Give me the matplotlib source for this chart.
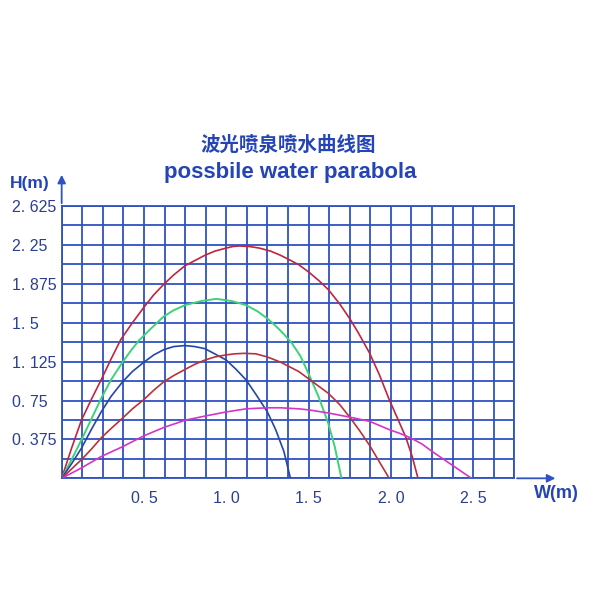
import matplotlib
matplotlib.use('Agg')
import matplotlib.pyplot as plt
import numpy as np

plt.rcParams['font.family'] = ['Liberation Sans', 'Noto Sans CJK SC', 'DejaVu Sans']

# curves (W, H in metres)
big_red_w = [0, 0.06, 0.12, 0.18, 0.24, 0.30, 0.36, 0.43, 0.50, 0.56, 0.62, 0.68, 0.75, 0.81, 0.87, 0.93, 1.00, 1.04,
             1.08, 1.14, 1.20, 1.27, 1.33, 1.38, 1.44, 1.50, 1.56, 1.62, 1.69, 1.75, 1.80, 1.87, 1.93, 1.99, 2.04, 2.09, 2.13, 2.165]
big_red_h = [0, 0.29, 0.56, 0.76, 0.95, 1.15, 1.34, 1.50, 1.65, 1.77, 1.87, 1.96, 2.05, 2.10, 2.15, 2.19, 2.22, 2.235,
             2.24, 2.235, 2.22, 2.19, 2.15, 2.11, 2.06, 1.99, 1.91, 1.82, 1.68, 1.54, 1.41, 1.21, 1.00, 0.76, 0.58, 0.40, 0.21, 0]

green_w = [0, 0.06, 0.12, 0.18, 0.24, 0.30, 0.37, 0.42, 0.47, 0.54, 0.62, 0.68, 0.75, 0.85, 0.94, 1.03, 1.12, 1.19,
           1.25, 1.30, 1.35, 1.40, 1.45, 1.50, 1.56, 1.62, 1.66, 1.70]
green_h = [0, 0.18, 0.37, 0.57, 0.77, 0.95, 1.12, 1.23, 1.33, 1.44, 1.56, 1.62, 1.67, 1.71, 1.73, 1.71, 1.67, 1.61,
           1.54, 1.47, 1.39, 1.30, 1.18, 1.01, 0.79, 0.53, 0.30, 0]

blue_w = [0, 0.06, 0.12, 0.18, 0.24, 0.30, 0.37, 0.43, 0.50, 0.56, 0.62, 0.68, 0.75, 0.81, 0.87, 0.93, 1.00, 1.06,
          1.12, 1.18, 1.25, 1.30, 1.35, 1.39]
blue_h = [0, 0.14, 0.29, 0.47, 0.64, 0.79, 0.93, 1.03, 1.12, 1.19, 1.24, 1.27, 1.28, 1.27, 1.25, 1.20, 1.14, 1.05,
          0.95, 0.81, 0.64, 0.47, 0.26, 0]

small_red_w = [0, 0.06, 0.12, 0.18, 0.24, 0.30, 0.37, 0.43, 0.50, 0.56, 0.62, 0.68, 0.75, 0.81, 0.87, 0.93, 1.00, 1.05,
               1.11, 1.18, 1.25, 1.33, 1.44, 1.50, 1.56, 1.62, 1.69, 1.75, 1.81, 1.87, 1.93, 1.99]
small_red_h = [0, 0.09, 0.18, 0.28, 0.39, 0.48, 0.58, 0.67, 0.76, 0.85, 0.93, 0.99, 1.05, 1.10, 1.14, 1.17, 1.19, 1.20,
               1.205, 1.20, 1.17, 1.12, 1.03, 0.96, 0.89, 0.82, 0.71, 0.59, 0.46, 0.32, 0.16, 0]

magenta_w = [0, 0.06, 0.12, 0.24, 0.37, 0.50, 0.62, 0.75, 0.87, 1.00, 1.12, 1.25, 1.33, 1.44, 1.50, 1.62, 1.75, 1.87,
             1.99, 2.06, 2.12, 2.19, 2.25, 2.31, 2.37, 2.43, 2.49]
magenta_h = [0, 0.05, 0.10, 0.21, 0.305, 0.41, 0.49, 0.56, 0.60, 0.64, 0.67, 0.68, 0.68, 0.67, 0.66, 0.63, 0.59, 0.55,
             0.47, 0.43, 0.39, 0.33, 0.26, 0.195, 0.13, 0.065, 0]

x_ticks = [0.5, 1.0, 1.5, 2.0, 2.5]
x_labels = ['0. 5', '1. 0', '1. 5', '2. 0', '2. 5']
y_ticks = [0.375, 0.75, 1.125, 1.5, 1.875, 2.25, 2.625]
y_labels = ['0. 375', '0. 75', '1. 125', '1. 5', '1. 875', '2. 25', '2. 625']

grid_col = '#2f52c4'
text_col = '#2b3f92'
title_col = '#2444b8'

fig = plt.figure(figsize=(6, 6), dpi=100)
ax = fig.add_axes([0.1028, 0.2028, 0.7543, 0.4538])

ax.set_xlim(0, 2.75)
ax.set_ylim(0, 2.625)
ax.set_xticks(np.arange(0, 2.751, 0.125), minor=True)
ax.set_yticks(np.arange(0, 2.626, 0.1875), minor=True)
ax.set_xticks(x_ticks)
ax.set_xticklabels(x_labels)
ax.set_yticks(y_ticks)
ax.set_yticklabels(y_labels)
ax.grid(which='both', color=grid_col, linewidth=1.3)
ax.tick_params(which='both', length=0, colors=text_col, labelsize=11.5)
ax.tick_params(axis='x', pad=9)
ax.tick_params(axis='y', pad=36)
for lab in ax.get_yticklabels():
    lab.set_horizontalalignment('left')
for s in ax.spines.values():
    s.set_color(grid_col)
    s.set_linewidth(1.3)

ax.plot(big_red_w, big_red_h, color='#c0243e', lw=1.2, zorder=3)
ax.plot(green_w, green_h, color='#3dd27a', lw=1.4, zorder=3)
ax.plot(blue_w, blue_h, color='#2446a8', lw=1.2, zorder=3)
ax.plot(small_red_w, small_red_h, color='#b8323a', lw=1.2, zorder=3)
ax.plot(magenta_w, magenta_h, color='#d434c8', lw=1.2, zorder=3)

# axis arrows
ax.annotate('', xy=(1.097, 0), xytext=(1.0, 0), xycoords='axes fraction',
            arrowprops=dict(arrowstyle='-|>', color=grid_col, lw=1.3, mutation_scale=12),
            annotation_clip=False)
ax.annotate('', xy=(0, 1.125), xytext=(0, 1.0), xycoords='axes fraction',
            arrowprops=dict(arrowstyle='-|>', color=grid_col, lw=1.3, mutation_scale=12),
            annotation_clip=False)

fig.text(0.05, 0.695, 'H(m)', color=title_col, fontsize=12.5, fontweight='bold', ha='center', va='center')
fig.text(0.928, 0.177, 'W(m)', color=title_col, fontsize=13, fontweight='bold', ha='center', va='center')
fig.text(0.48, 0.758, '波光喷泉喷水曲线图', color=title_col, fontsize=14, fontweight='bold',
         family=['Noto Sans CJK SC', 'DejaVu Sans'], ha='center', va='center')
fig.text(0.484, 0.713, 'possbile water parabola', color=title_col, fontsize=16,
         fontweight='bold', ha='center', va='center')

fig.savefig('out.png', dpi=100, facecolor='white')
